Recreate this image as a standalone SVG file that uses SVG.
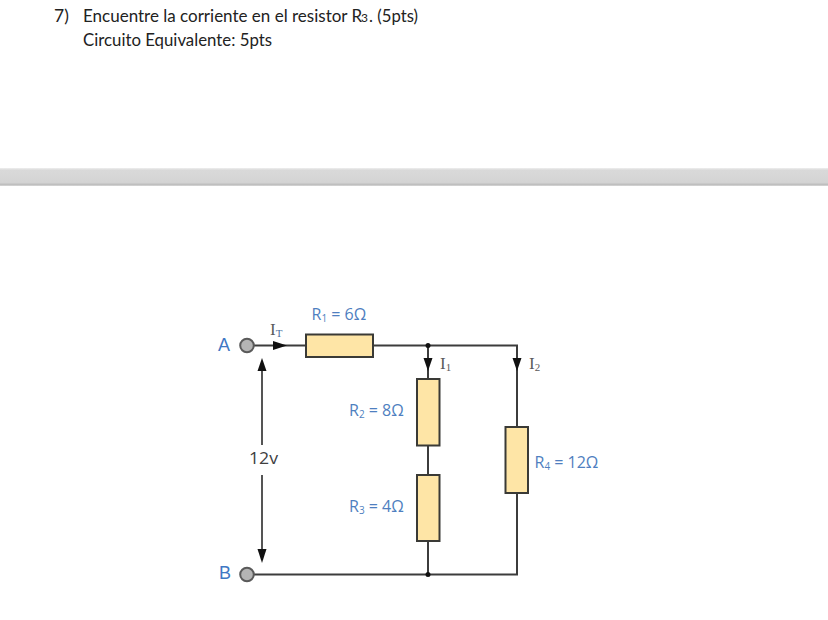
<svg xmlns="http://www.w3.org/2000/svg" width="828" height="620" viewBox="0 0 828 620">
<style>
.doc{font-family:"Lato","Liberation Sans",sans-serif;font-size:17.500px;fill:#222}
.lbl{font-family:"Open Sans","Liberation Sans",sans-serif;font-size:16px;fill:#4f7fc0}
.sub{font-size:10px}
.term{font-family:"Liberation Sans",sans-serif;font-size:18px;fill:#3f78c4}
.cur{font-family:"Liberation Serif",serif;font-size:17px;fill:#5a5a5a}
.cur .sub{font-size:11px}
.volt{font-family:"Open Sans","Liberation Sans",sans-serif;font-size:16px;fill:#40403f}
.w{fill:none;stroke:#3c3c3c;stroke-width:2}
.v{fill:none;stroke:#555;stroke-width:2}
.res{fill:#fee5a6;stroke:#3a3a36;stroke-width:2}
.term-dot{fill:#b4b4b4;stroke:#5a5a5a;stroke-width:2}
.ah{fill:#111}
.dot{fill:#111}
</style>
<defs>
<linearGradient id="band" x1="0" y1="0" x2="0" y2="1">
<stop offset="0" stop-color="#eeeeee"/><stop offset="0.12" stop-color="#d9d9d9"/><stop offset="0.8" stop-color="#d4d4d4"/><stop offset="0.95" stop-color="#b9b9b9"/><stop offset="1" stop-color="#ececec"/>
</linearGradient>
</defs>
<rect width="828" height="620" fill="#fff"/>
<text class="doc" x="54" y="22">7)</text>
<text class="doc" x="83" y="22" style="font-size:17px">Encuentre la corriente en el resistor R</text>
<text class="doc" x="361" y="22" style="font-size:12px">3</text>
<text class="doc" x="369" y="22" textLength="49" lengthAdjust="spacingAndGlyphs">. (5pts)</text>
<text class="doc" x="83" y="46" textLength="189" lengthAdjust="spacingAndGlyphs">Circuito Equivalente: 5pts</text>
<rect x="0" y="168" width="828" height="18" fill="url(#band)"/>
<g id="connectors">
<path class="w" d="M254 345.500H306M373 345.500H517V427M428 345.500V379M428 445V475M428 541V574.500M517 493V574.500H254"/>
<path class="v" d="M262 371V445M262 475V550"/>
<polygon class="ah" points="287,345.500 273,341 273,350"/>
<polygon class="ah" points="262,358 257.500,371 266.500,371"/>
<polygon class="ah" points="262,563 257.500,549 266.500,549"/>
<polygon class="ah" points="428,371 423.500,358 432.500,358"/>
<polygon class="ah" points="517,371 512.500,358 521.500,358"/>
<circle class="dot" cx="428" cy="345.500" r="2.500"/>
<circle class="dot" cx="428" cy="574.500" r="2.500"/>
</g>
<g id="node-A"><circle class="term-dot" cx="247" cy="345.500" r="6.800"/><text class="term" x="218" y="350.500">A</text></g>
<g id="node-B"><circle class="term-dot" cx="247" cy="574.500" r="6.800"/><text class="term" x="219" y="579">B</text></g>
<g id="R1"><rect class="res" x="306" y="334.500" width="67" height="22.500"/><text class="lbl" x="311.500" y="320">R<tspan class="sub" dy="2">1</tspan><tspan dy="-2"> = 6Ω</tspan></text></g>
<g id="R2"><rect class="res" x="417" y="379" width="22.500" height="66.500"/><text class="lbl" x="349" y="416">R<tspan class="sub" dy="2">2</tspan><tspan dy="-2"> = 8Ω</tspan></text></g>
<g id="R3"><rect class="res" x="417" y="475" width="22.500" height="66"/><text class="lbl" x="349" y="512">R<tspan class="sub" dy="2">3</tspan><tspan dy="-2"> = 4Ω</tspan></text></g>
<g id="R4"><rect class="res" x="505.500" y="427" width="22.500" height="66"/><text class="lbl" x="534.500" y="468">R<tspan class="sub" dy="2">4</tspan><tspan dy="-2"> = 12Ω</tspan></text></g>
<g id="I-T"><text class="cur" x="270" y="335">I<tspan class="sub" dy="2" fill="#4f6f9f">T</tspan></text></g>
<g id="I-1"><text class="cur" x="440" y="369">I<tspan class="sub" dy="2">1</tspan></text></g>
<g id="I-2"><text class="cur" x="529" y="369">I<tspan class="sub" dy="2">2</tspan></text></g>
<g id="V"><text class="volt" x="249" y="464" textLength="29" lengthAdjust="spacingAndGlyphs">12v</text></g>
</svg>
